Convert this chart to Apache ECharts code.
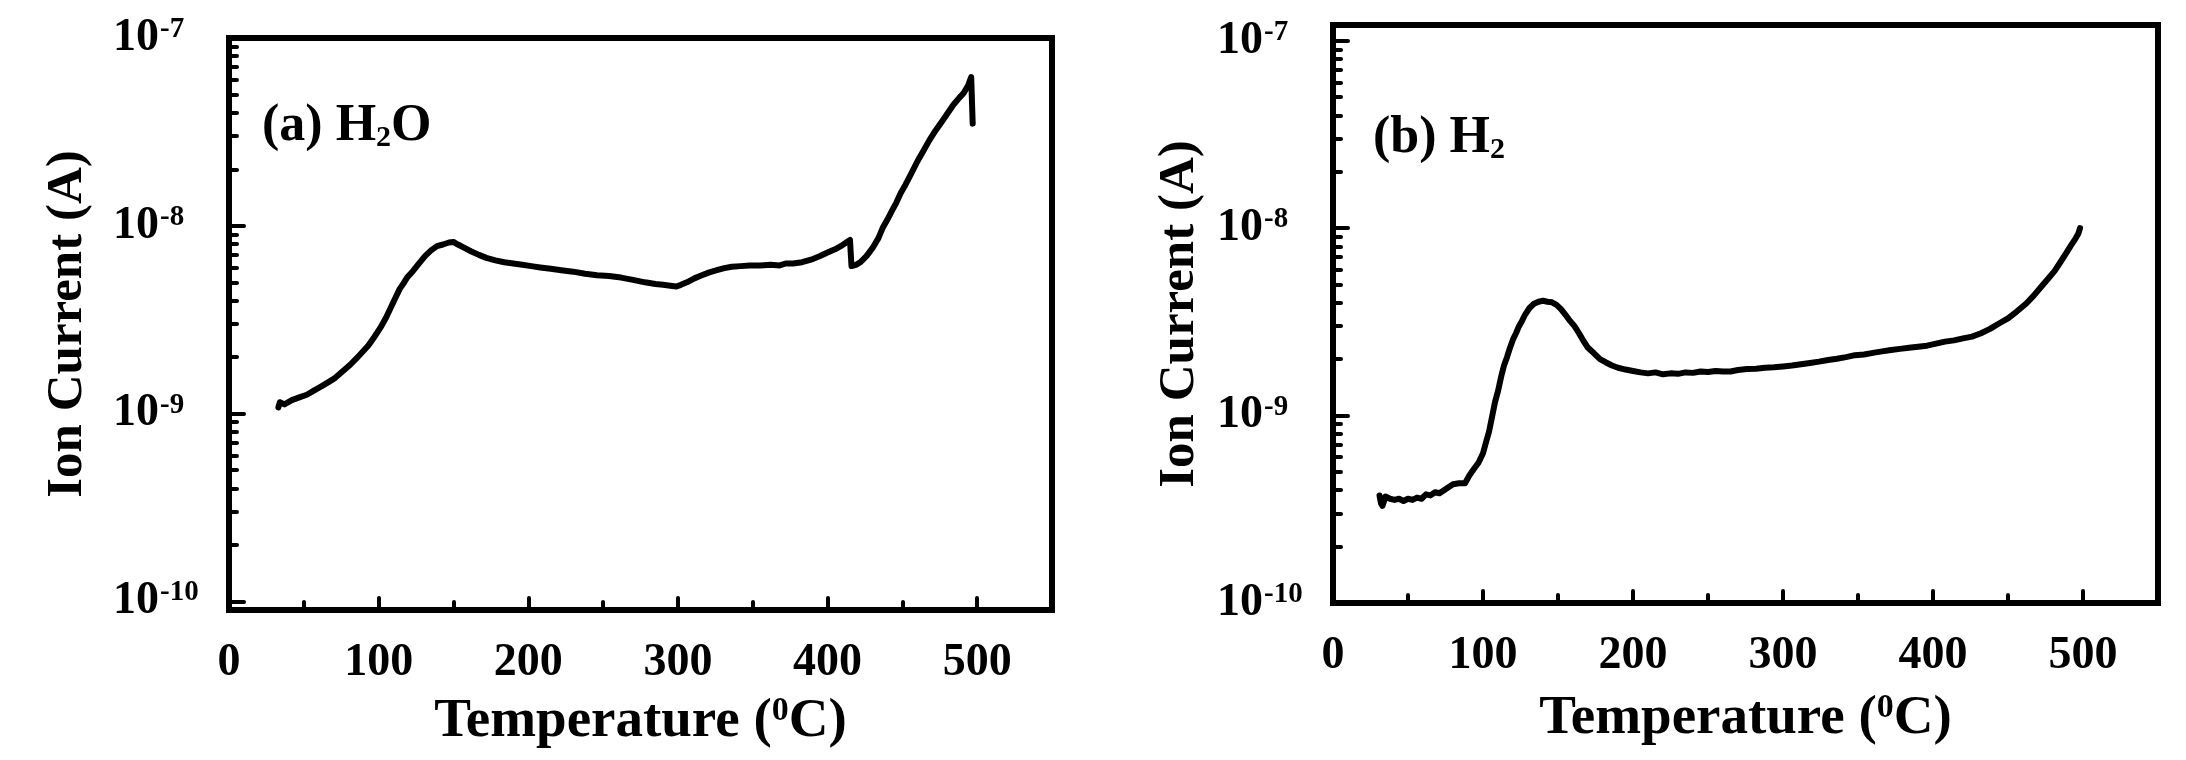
<!DOCTYPE html>
<html lang="en">
<head>
<meta charset="UTF-8">
<title>Ion Current vs Temperature</title>
<script src="https://cdn.jsdelivr.net/npm/echarts@6/dist/echarts.min.js"></script>
<style>
  html, body { margin: 0; padding: 0; background: #fff; }
  #main { width: 2186px; height: 760px; }
</style>
</head>
<body>
<div id="main"></div>
<script>
// (a) H2O signal, temperature in degC, ion current in A
var h2oTemp = [33, 34, 37, 42, 47, 52, 57, 62, 67, 71, 76, 81, 85, 89, 93, 97, 101, 105, 108, 111, 114, 116, 119, 123, 127, 131, 135, 139, 143, 147, 150, 153, 157, 162, 167, 172, 178, 184, 190, 196, 202, 208, 215, 222, 230, 238, 246, 254, 262, 270, 278, 285, 290, 295, 299, 302, 306, 311, 316, 321, 326, 331, 336, 342, 348, 355, 362, 368, 372, 377, 383, 389, 395, 400, 405, 410, 415, 416, 419, 422, 426, 430, 434, 437, 440, 443, 446, 449, 452, 456, 460, 464, 468, 472, 476, 480, 484, 488, 491, 494, 496, 497];
var h2oCurrent = [1.08e-9, 1.15e-9, 1.12e-9, 1.18e-9, 1.22e-9, 1.26e-9, 1.33e-9, 1.40e-9, 1.48e-9, 1.55e-9, 1.68e-9, 1.82e-9, 1.96e-9, 2.12e-9, 2.30e-9, 2.55e-9, 2.85e-9, 3.25e-9, 3.65e-9, 4.1e-9, 4.6e-9, 4.85e-9, 5.3e-9, 5.75e-9, 6.3e-9, 6.9e-9, 7.4e-9, 7.8e-9, 7.95e-9, 8.15e-9, 8.2e-9, 7.95e-9, 7.65e-9, 7.3e-9, 7.0e-9, 6.75e-9, 6.55e-9, 6.4e-9, 6.3e-9, 6.2e-9, 6.1e-9, 6.0e-9, 5.9e-9, 5.8e-9, 5.7e-9, 5.55e-9, 5.45e-9, 5.4e-9, 5.3e-9, 5.15e-9, 5.0e-9, 4.9e-9, 4.85e-9, 4.8e-9, 4.75e-9, 4.85e-9, 5.0e-9, 5.25e-9, 5.45e-9, 5.65e-9, 5.8e-9, 5.95e-9, 6.05e-9, 6.1e-9, 6.15e-9, 6.15e-9, 6.2e-9, 6.15e-9, 6.3e-9, 6.3e-9, 6.4e-9, 6.6e-9, 6.9e-9, 7.2e-9, 7.5e-9, 7.9e-9, 8.4e-9, 6.1e-9, 6.2e-9, 6.4e-9, 6.9e-9, 7.6e-9, 8.6e-9, 9.8e-9, 1.08e-8, 1.2e-8, 1.33e-8, 1.5e-8, 1.65e-8, 1.9e-8, 2.2e-8, 2.5e-8, 2.85e-8, 3.2e-8, 3.55e-8, 3.95e-8, 4.4e-8, 4.8e-8, 5.1e-8, 5.6e-8, 6.2e-8, 3.5e-8];

// (b) H2 signal
var h2Temp = [31, 32, 33, 35, 38, 41, 44, 47, 50, 53, 56, 59, 62, 65, 68, 71, 74, 77, 80, 84, 88, 91, 94, 97, 100, 102, 104, 106, 108, 110, 112, 114, 116, 118, 120, 122, 124, 126, 128, 131, 134, 137, 140, 143, 146, 149, 152, 155, 158, 161, 164, 167, 170, 174, 178, 182, 186, 190, 195, 200, 205, 210, 215, 220, 225, 230, 235, 240, 245, 250, 255, 260, 265, 270, 276, 282, 288, 294, 300, 306, 312, 318, 324, 330, 336, 342, 348, 354, 360, 366, 372, 378, 384, 390, 396, 402, 408, 414, 420, 426, 432, 438, 444, 450, 456, 462, 467, 472, 477, 481, 485, 489, 492, 495, 497, 498];
var h2Current = [3.75e-10, 3.4e-10, 3.3e-10, 3.7e-10, 3.6e-10, 3.55e-10, 3.6e-10, 3.5e-10, 3.6e-10, 3.55e-10, 3.65e-10, 3.6e-10, 3.8e-10, 3.75e-10, 3.9e-10, 3.85e-10, 4.0e-10, 4.15e-10, 4.3e-10, 4.35e-10, 4.35e-10, 4.8e-10, 5.2e-10, 5.6e-10, 6.3e-10, 7.2e-10, 8.2e-10, 9.8e-10, 1.18e-9, 1.35e-9, 1.6e-9, 1.85e-9, 2.05e-9, 2.3e-9, 2.55e-9, 2.75e-9, 3.0e-9, 3.2e-9, 3.45e-9, 3.75e-9, 3.95e-9, 4.05e-9, 4.1e-9, 4.05e-9, 4.02e-9, 3.9e-9, 3.7e-9, 3.45e-9, 3.2e-9, 3.0e-9, 2.75e-9, 2.5e-9, 2.3e-9, 2.15e-9, 2.0e-9, 1.92e-9, 1.85e-9, 1.8e-9, 1.76e-9, 1.73e-9, 1.7e-9, 1.68e-9, 1.7e-9, 1.66e-9, 1.68e-9, 1.67e-9, 1.7e-9, 1.69e-9, 1.72e-9, 1.71e-9, 1.73e-9, 1.72e-9, 1.72e-9, 1.75e-9, 1.77e-9, 1.78e-9, 1.8e-9, 1.81e-9, 1.83e-9, 1.85e-9, 1.88e-9, 1.91e-9, 1.94e-9, 1.98e-9, 2.01e-9, 2.05e-9, 2.1e-9, 2.12e-9, 2.16e-9, 2.2e-9, 2.24e-9, 2.27e-9, 2.3e-9, 2.33e-9, 2.36e-9, 2.42e-9, 2.48e-9, 2.52e-9, 2.58e-9, 2.64e-9, 2.75e-9, 2.9e-9, 3.1e-9, 3.3e-9, 3.6e-9, 3.95e-9, 4.35e-9, 4.85e-9, 5.4e-9, 5.9e-9, 6.6e-9, 7.4e-9, 8.1e-9, 8.8e-9, 9.4e-9, 1.0e-8];

// axis ticks
var xMajorTicks = [0, 100, 200, 300, 400, 500];
var xMinorTicks = [50, 150, 250, 350, 450];
var yDecades = [-10, -9, -8, -7];
var yMinorMultipliers = [2, 3, 4, 5, 6, 7, 8, 9];

var FONT = '"Liberation Serif", "Times New Roman", serif';

// minor log ticks (in log10 space)
var yMinorTicks = [];
[-10, -9, -8].forEach(function (d) {
    yMinorMultipliers.forEach(function (m) {
        yMinorTicks.push(d + Math.log10(m));
    });
});

function toLogPairs(temps, currents) {
    return temps.map(function (t, i) { return [t, Math.log10(currents[i])]; });
}

var tickStyle = { color: '#000', width: 4, cap: 'round' };

function xAxes(gi, nameGap) {
    return [{
        type: 'value', gridIndex: gi, position: 'bottom', min: 0, max: 550,
        axisLine: { show: false },
        axisTick: { inside: true, length: 12, customValues: xMajorTicks, lineStyle: tickStyle },
        axisLabel: {
            customValues: xMajorTicks, margin: 30, color: '#000',
            fontSize: 46, fontWeight: 'bold', fontFamily: FONT
        },
        splitLine: { show: false },
        name: 'Temperature ({s|0}C)', nameLocation: 'middle', nameGap: nameGap, nameMoveOverlap: false,
        nameTextStyle: {
            color: '#000', fontSize: 55, fontWeight: 'bold', fontFamily: FONT,
            rich: { s: { fontSize: 34, fontWeight: 'bold', fontFamily: FONT, color: '#000', verticalAlign: 'top' } }
        }
    }, {
        type: 'value', gridIndex: gi, position: 'bottom', min: 0, max: 550,
        axisLine: { show: false },
        axisTick: { inside: true, length: 8, customValues: xMinorTicks, lineStyle: tickStyle },
        axisLabel: { show: false },
        splitLine: { show: false }
    }];
}

function yAxes(gi, ymin, ymax, nameGap) {
    return [{
        type: 'value', gridIndex: gi, position: 'left', min: ymin, max: ymax,
        axisLine: { show: false },
        axisTick: { inside: true, length: 15, customValues: yDecades, lineStyle: tickStyle },
        axisLabel: {
            customValues: yDecades, align: 'left', margin: 116, color: '#000',
            formatter: function (v) { return '{b|10}{s|' + Math.round(v) + '}'; },
            rich: {
                b: { fontSize: 46, fontWeight: 'bold', fontFamily: FONT, color: '#000' },
                s: { fontSize: 29, fontWeight: 'bold', fontFamily: FONT, color: '#000', verticalAlign: 'top', padding: [0, 0, 0, 1] }
            }
        },
        splitLine: { show: false },
        name: 'Ion Current (A)', nameLocation: 'middle', nameGap: nameGap,
        nameTextStyle: { color: '#000', fontSize: 51, fontWeight: 'bold', fontFamily: FONT }
    }, {
        type: 'value', gridIndex: gi, position: 'left', min: ymin, max: ymax,
        axisLine: { show: false },
        axisTick: { inside: true, length: 8, customValues: yMinorTicks, lineStyle: tickStyle },
        axisLabel: { show: false },
        splitLine: { show: false }
    }];
}

var myChart = echarts.init(document.getElementById('main'));

var titleStyle = {
    color: '#000', fontSize: 52, fontWeight: 'bold', fontFamily: FONT,
    rich: { sub: { fontSize: 30, fontWeight: 'bold', fontFamily: FONT, color: '#000', verticalAlign: 'bottom' } }
};

var option = {
    backgroundColor: '#fff',
    animation: false,
    title: [
        { text: '(a) H{sub|2}O', left: 257, top: 96, textStyle: titleStyle },
        { text: '(b) H{sub|2}', left: 1368, top: 108, textStyle: titleStyle }
    ],
    grid: [
        { left: 229, top: 38, right: 1134, bottom: 150, show: true, borderColor: '#000', borderWidth: 6, outerBoundsMode: 'none' },
        { left: 1333, top: 25, right: 28, bottom: 157, show: true, borderColor: '#000', borderWidth: 6, outerBoundsMode: 'none' }
    ],
    xAxis: xAxes(0, 84).concat(xAxes(1, 88)),
    yAxis: yAxes(0, Math.log10(9e-11), -7, 136).concat(yAxes(1, -10, -6.916, 128)),
    series: [{
        type: 'line', xAxisIndex: 0, yAxisIndex: 0, silent: true,
        data: toLogPairs(h2oTemp, h2oCurrent),
        showSymbol: false, symbol: 'none',
        lineStyle: { color: '#000', width: 6, join: 'round', cap: 'round' }
    }, {
        type: 'line', xAxisIndex: 2, yAxisIndex: 2, silent: true,
        data: toLogPairs(h2Temp, h2Current),
        showSymbol: false, symbol: 'none',
        lineStyle: { color: '#000', width: 6, join: 'round', cap: 'round' }
    }]
};

myChart.setOption(option);
</script>
</body>
</html>
